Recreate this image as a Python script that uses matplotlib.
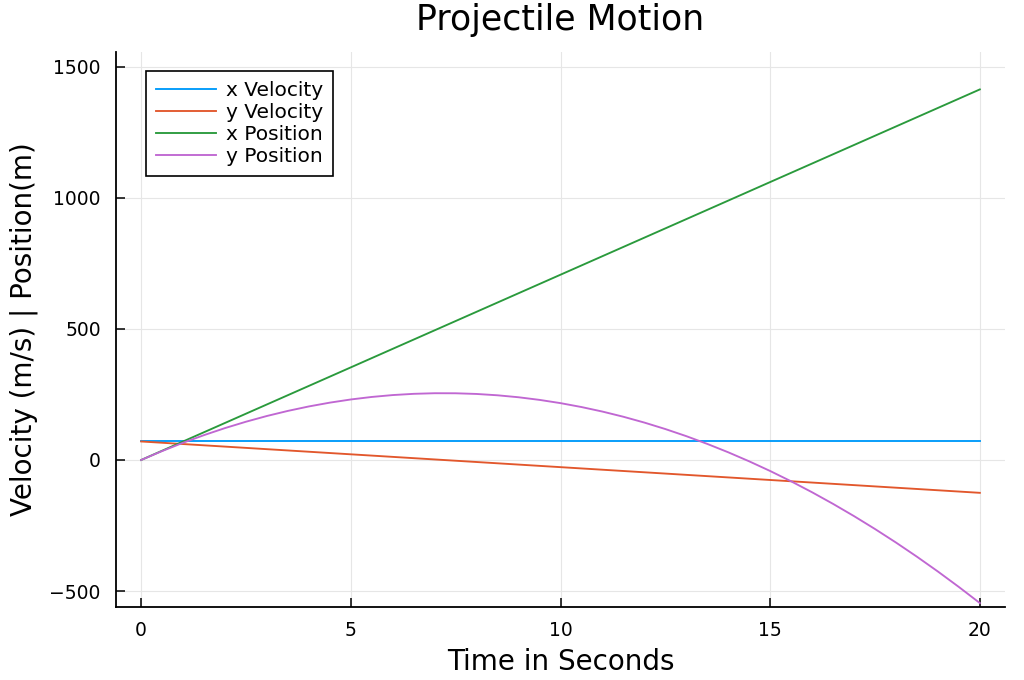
import matplotlib
matplotlib.use("Agg")
import matplotlib.pyplot as plt

# values
time_s = [0, 1, 2, 3, 4, 5, 6, 7, 8, 9, 10, 11, 12, 13, 14, 15, 16, 17, 18, 19, 20]
x_velocity = [70.7, 70.7, 70.7, 70.7, 70.7, 70.7, 70.7, 70.7, 70.7, 70.7, 70.7,
              70.7, 70.7, 70.7, 70.7, 70.7, 70.7, 70.7, 70.7, 70.7, 70.7]
y_velocity = [70.7, 60.9, 51.1, 41.3, 31.5, 21.7, 11.9, 2.1, -7.7, -17.5, -27.3,
              -37.1, -46.9, -56.7, -66.5, -76.3, -86.1, -95.9, -105.7, -115.5, -125.3]
x_position = [0, 70.7, 141.4, 212.1, 282.8, 353.5, 424.3, 495.0, 565.7, 636.4, 707.1,
              777.8, 848.5, 919.2, 989.9, 1060.7, 1131.4, 1202.1, 1272.8, 1343.5, 1414.2]

# the curved series is read every half second
time_half = [0, 0.5, 1, 1.5, 2, 2.5, 3, 3.5, 4, 4.5, 5, 5.5, 6, 6.5, 7, 7.5, 8, 8.5, 9, 9.5, 10,
             10.5, 11, 11.5, 12, 12.5, 13, 13.5, 14, 14.5, 15, 15.5, 16, 16.5, 17, 17.5, 18,
             18.5, 19, 19.5, 20]
y_position = [0, 34.1, 65.8, 95.0, 121.8, 146.1, 168.0, 187.4, 204.4, 218.9, 231.0,
              240.6, 247.8, 252.5, 254.8, 254.6, 252.0, 246.9, 239.4, 229.4, 217.0,
              202.1, 184.8, 165.0, 142.8, 118.1, 91.0, 61.4, 29.4, -5.1, -42.0,
              -81.4, -123.2, -167.5, -214.2, -263.4, -315.0, -369.1, -425.6, -484.6, -546.0]

series = [("x Velocity", time_s, x_velocity, "#009AFA"),
          ("y Velocity", time_s, y_velocity, "#E2572C"),
          ("x Position", time_s, x_position, "#2A9A3C"),
          ("y Position", time_half, y_position, "#C067D2")]

plt.rcParams['font.family'] = ['DejaVu Sans']

fig = plt.figure(figsize=(10.24, 6.8), dpi=100)
ax = fig.add_axes([116 / 1024, 1 - 607 / 680, 889 / 1024, 555 / 680])

for name, tt, vals, col in series:
    ax.plot(tt, vals, color=col, lw=1.35, label=name)

ax.set_xlim(-0.6, 20.6)
ax.set_ylim(-561, 1557)
ax.set_xticks([0, 5, 10, 15, 20])
ax.set_yticks([-500, 0, 500, 1000, 1500])
ax.set_yticklabels(["\u2212500", "0", "500", "1000", "1500"])

ax.grid(True, color="#e6e6e6", lw=0.8)
ax.set_axisbelow(True)
for side in ["top", "right"]:
    ax.spines[side].set_visible(False)
for side in ["left", "bottom"]:
    ax.spines[side].set_linewidth(1.3)
ax.tick_params(direction="in", length=6.5, width=1.1, labelsize=13.5)
ax.tick_params(axis="x", pad=10)
ax.tick_params(axis="y", pad=11)

ax.set_title("Projectile Motion", fontsize=25, pad=16)
ax.set_xlabel("Time in Seconds", fontsize=20, labelpad=6)
ax.set_ylabel("Velocity (m/s) | Position(m)", fontsize=20, labelpad=8)

leg = ax.legend(loc="upper left", bbox_to_anchor=(0.0337, 0.9663), borderaxespad=0,
                fontsize=14.5, handlelength=3.0, handletextpad=0.45, labelspacing=0.15,
                fancybox=False, framealpha=1, edgecolor="black", borderpad=0.5)
leg.get_frame().set_linewidth(1.2)

fig.savefig("out.png", dpi=100)
